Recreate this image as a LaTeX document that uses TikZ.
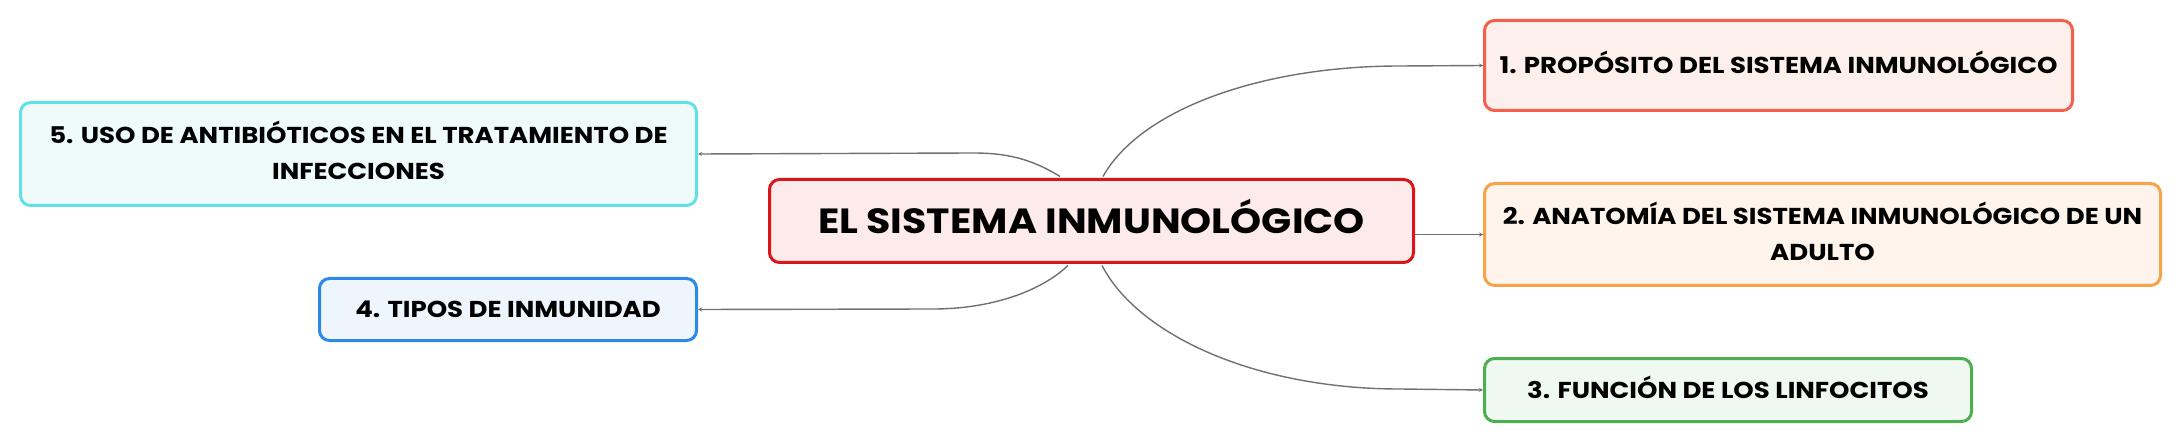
\documentclass[tikz,border=0pt]{standalone}
\usepackage{fontspec}
\setmainfont{Poppins}[FakeStretch=1.13]
\usetikzlibrary{arrows.meta,calc}
\definecolor{linkgray}{HTML}{707070}
\definecolor{credd}{HTML}{D9161A}
\definecolor{cfill}{HTML}{FDEAEA}
\definecolor{oned}{HTML}{F4604C}
\definecolor{onef}{HTML}{FDF0EC}
\definecolor{twod}{HTML}{F6A34A}
\definecolor{twof}{HTML}{FEF4EC}
\definecolor{threed}{HTML}{4CAF50}
\definecolor{threef}{HTML}{F0F9F1}
\definecolor{fourd}{HTML}{2A8AE6}
\definecolor{fourf}{HTML}{EEF5FD}
\definecolor{fived}{HTML}{62E0E8}
\definecolor{fivef}{HTML}{EFFBFB}
\begin{document}
\begin{tikzpicture}[x=1pt,y=-1pt,
  box/.style={draw, rounded corners=10pt, line width=3pt, inner sep=0pt, align=center,
    font=\bfseries\fontsize{23}{36}\selectfont, text height=16pt, text depth=0pt},
  twoline/.style={text height=52pt},
  link/.style={draw=linkgray, line width=1.4pt, -{Stealth[length=4pt,width=4pt]}}]
\useasboundingbox (0,0) rectangle (2183,443);
\node[box, draw=credd, fill=cfill, minimum width=644pt, minimum height=83pt,
  font=\bfseries\fontsize{35}{40}\selectfont, text height=25pt] (C) at (1091.5,221) {EL SISTEMA INMUNOLÓGICO};
\node[box, draw=oned, fill=onef, minimum width=588pt, minimum height=90pt] (N1) at (1778.5,65.5) {1. PROPÓSITO DEL SISTEMA INMUNOLÓGICO};
\node[box, twoline, draw=twod, fill=twof, minimum width=676pt, minimum height=102pt] (N2) at (1822.5,234.5) {2. ANATOMÍA DEL SISTEMA INMUNOLÓGICO DE UN\\ADULTO};
\node[box, draw=threed, fill=threef, minimum width=487pt, minimum height=63pt] (N3) at (1728,390) {3. FUNCIÓN DE LOS LINFOCITOS};
\node[box, draw=fourd, fill=fourf, minimum width=377pt, minimum height=62pt] (N4) at (508,309.5) {4. TIPOS DE INMUNIDAD};
\node[box, twoline, draw=fived, fill=fivef, minimum width=676pt, minimum height=103pt] (N5) at (358.5,154) {5. USO DE ANTIBIÓTICOS EN EL TRATAMIENTO DE\\INFECCIONES};
\draw[link] ([xshift=11.5pt,yshift=1.5pt]C.north) .. controls (1140,110) and (1260,66) .. (1400,66) -- (N1.west);
\draw[link] (C.east |- N2.west) -- (N2.west);
\draw[link] ([xshift=10.5pt,yshift=-1.5pt]C.south) .. controls (1138,335) and (1255,389) .. (1400,389) -- (N3.west);
\draw[link] ([xshift=-23.5pt,yshift=-1.5pt]C.south) .. controls (1040,292) and (990,309) .. (933,309) -- (N4.east);
\draw[link] ([xshift=-31.5pt,yshift=1.5pt]C.north) .. controls (1030,158) and (1005,153) .. (973,153) -- (N5.east);
\end{tikzpicture}
\end{document}
